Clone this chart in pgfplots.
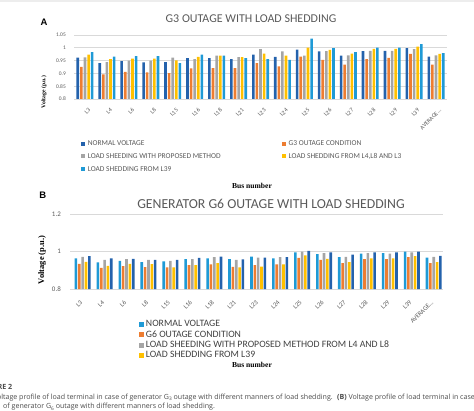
\documentclass[border=0pt]{standalone}
\usepackage{fontspec}
\setmainfont{Carlito}
\newfontfamily\serifb{Liberation Serif}
\newfontfamily\arialf{Liberation Sans}
\newfontfamily\capf{Open Sans}
\usepackage{pgfplots}
\usepackage{pgfplotstable}
\pgfplotsset{compat=1.18}
\definecolor{dblue}{HTML}{2462AC}
\definecolor{lblue}{HTML}{1F9AD6}
\definecolor{orng}{HTML}{ED7D31}
\definecolor{gry}{HTML}{A5A5A5}
\definecolor{yel}{HTML}{FFC000}
\definecolor{txtg}{HTML}{595959}
\definecolor{gridc}{HTML}{D9D9D9}

\pgfplotstableread{
x nv g3 pr ll lt
0 0.962 0.925 0.963 0.973 0.983
1 0.940 0.896 0.944 0.956 0.966
2 0.948 0.906 0.950 0.958 0.967
3 0.943 0.904 0.950 0.958 0.967
4 0.944 0.901 0.962 0.951 0.940
5 0.960 0.920 0.956 0.965 0.973
6 0.960 0.921 0.969 0.969 0.969
7 0.956 0.921 0.964 0.964 0.960
8 0.973 0.940 0.995 0.977 0.956
9 0.965 0.927 0.986 0.969 0.953
10 0.993 0.966 0.969 1.001 1.036
11 0.986 0.953 0.987 0.992 0.999
12 0.969 0.934 0.970 0.977 0.983
13 0.987 0.956 0.988 0.996 1.001
14 0.988 0.961 0.988 0.996 1.001
15 0.999 0.976 0.995 1.005 1.014
16 0.966 0.934 0.970 0.976 0.979
}\dataA

\pgfplotstableread{
x nv g6 pr lt ex
0 0.964 0.934 0.971 0.945 0.975
1 0.942 0.913 0.955 0.924 0.964
2 0.950 0.922 0.959 0.934 0.961
3 0.943 0.917 0.955 0.933 0.955
4 0.947 0.915 0.950 0.915 0.955
5 0.959 0.927 0.959 0.927 0.966
6 0.963 0.931 0.970 0.938 0.973
7 0.959 0.918 0.955 0.915 0.958
8 0.973 0.927 0.968 0.920 0.968
9 0.964 0.931 0.970 0.931 0.970
10 0.996 0.966 1.000 0.980 1.003
11 0.986 0.955 0.991 0.961 0.996
12 0.970 0.938 0.971 0.943 0.984
13 0.989 0.959 0.991 0.964 0.996
14 0.991 0.959 0.989 0.964 0.995
15 1.000 0.970 0.996 0.975 1.000
16 0.968 0.938 0.971 0.943 0.977
}\dataB

\newcommand{\avg}{AVERAGE.{}.{}.}

\pgfplotsset{
  sqA/.style={legend image code/.code={\fill[##1,draw=none] (0bp,-2bp) rectangle (4bp,2bp);}},
  sqB/.style={legend image code/.code={\fill[##1,draw=none] (0bp,-2.5bp) rectangle (5bp,2.5bp);}},
  common/.style={
    scale only axis, width=373bp,
    xmin=-0.5, xmax=16.5,
    xtick={0,1,2,3,4,5,6,7,8,9,10,11,12,13,14,15,16},
    xticklabels={L3,L4,L6,L8,L15,L16,L18,L21,L23,L24,L25,L26,L27,L28,L29,L39,\avg},
    axis line style={draw=none},
    tick style={draw=none},
    ymajorgrids, grid style={draw=gridc, line width=0.6bp},
    /pgf/number format/assume math mode=true,
    legend cell align=left,
  },
}

\begin{document}
\begin{tikzpicture}[x=1bp,y=1bp]
\useasboundingbox (0,0) rectangle (474,410);
\fill[black!7] (0,407.5) rectangle (474,410);

% ---------- Panel A ----------
\begin{axis}[common,
  at={(74bp,311bp)}, anchor=south west, height=64bp,
  ybar=1bp, bar width=2.6bp,
  ymin=0.8, ymax=1.05,
  ytick={0.8,0.85,0.9,0.95,1,1.05},
  yticklabels={0.8,0.85,0.9,0.95,1,1.05},
  yticklabel style={font=\fontsize{5.5}{6}\selectfont, text=txtg, inner sep=0pt, xshift=-8bp},
  xticklabel style={font=\fontsize{6}{7}\selectfont, text=txtg, inner sep=0pt, xshift=4.5bp, yshift=-6bp, rotate=45, anchor=east},
  legend columns=2,
  legend style={at={(0.019,-0.63)}, anchor=north west, draw=none, fill=none, inner sep=0pt,
    font=\fontsize{7.5}{8}\selectfont, text=txtg,
    nodes={inner sep=0.5bp, text height=5.5bp, text depth=1.5bp},
    row sep=4.8bp,
    /tikz/every even column/.append style={column sep=61bp},
    /tikz/every odd column/.append style={column sep=2bp}},
]
\addplot[fill=dblue, draw=none, sqA] table[x=x,y=nv] {\dataA};
\addplot[fill=orng, draw=none, sqA] table[x=x,y=g3] {\dataA};
\addplot[fill=gry, draw=none, sqA] table[x=x,y=pr] {\dataA};
\addplot[fill=yel, draw=none, sqA] table[x=x,y=ll] {\dataA};
\addplot[fill=lblue, draw=none, sqA] table[x=x,y=lt] {\dataA};
\legend{NORMAL VOLTAGE, G3 OUTAGE CONDITION, LOAD SHEEDING WITH PROPOSED METHOD, {LOAD SHEDDING FROM L4,L8 AND L3}, LOAD SHEDDING FROM L39}
\end{axis}

% ---------- Panel B ----------
\begin{axis}[common,
  at={(70bp,121bp)}, anchor=south west, height=75bp,
  ybar=0.75bp, bar width=2.6bp,
  ymin=0.8, ymax=1.2,
  ytick={0.8,1,1.2},
  yticklabels={0.8,1,1.2},
  yticklabel style={font=\fontsize{7}{8}\selectfont, text=txtg, inner sep=0pt, xshift=-9bp},
  xticklabel style={font=\fontsize{6.5}{7}\selectfont, text=txtg, inner sep=0pt, xshift=0.5bp, yshift=-8bp, rotate=45, anchor=east},
  legend style={at={(0.185,-0.40)}, anchor=north west, draw=none, fill=none, inner sep=0pt,
    font=\fontsize{9.8}{10}\selectfont, text=black!75,
    nodes={inner sep=0.25bp, text height=7.2bp, text depth=2.4bp},
    row sep=0.3bp,
    /tikz/every odd column/.append style={column sep=1.5bp}},
]
\addplot[fill=lblue, draw=none, sqB] table[x=x,y=nv] {\dataB};
\addplot[fill=orng, draw=none, sqB] table[x=x,y=g6] {\dataB};
\addplot[fill=gry, draw=none, sqB] table[x=x,y=pr] {\dataB};
\addplot[fill=yel, draw=none, sqB] table[x=x,y=lt] {\dataB};
\addplot[fill=dblue, draw=none, forget plot] table[x=x,y=ex] {\dataB};
\legend{NORMAL VOLTAGE, G6 OUTAGE CONDITION, LOAD SHEEDING WITH PROPOSED METHOD FROM L4 AND L8, LOAD SHEDDING FROM L39}
\end{axis}

% ---------- texts ----------
\node[font=\arialf\bfseries\fontsize{9.5}{10}\selectfont] at (44,388) {A};
\node[font=\fontsize{12}{13}\selectfont, text=txtg] at (251,391.5) {G3 OUTAGE WITH LOAD SHEDDING};
\node[font=\serifb\bfseries\fontsize{5.7}{6}\selectfont, rotate=90] at (44,318) {Voltage (p.u.)};
\node[font=\serifb\bfseries\fontsize{7.6}{8}\selectfont] at (252,224) {Bus number};

\node[font=\arialf\bfseries\fontsize{9.5}{10}\selectfont] at (42.7,215) {B};
\node[font=\fontsize{13.8}{14}\selectfont, text=txtg] at (271,206) {GENERATOR G6 OUTAGE WITH LOAD SHEDDING};
\node[font=\serifb\bfseries\fontsize{8.5}{9}\selectfont, rotate=90] at (42,150) {Voltage (p.u.)};
\node[font=\serifb\bfseries\fontsize{7.6}{8}\selectfont] at (252,45) {Bus number};

% caption (cropped)
\node[font=\capf\bfseries\fontsize{7.2}{8}\selectfont, text=black!70, anchor=base east, inner sep=0pt] at (12.5,20.5) {FIGURE 2};
\node[font=\capf\fontsize{7.1}{8}\selectfont, text=black!70, anchor=base east, inner sep=0pt] at (333,11)
  {\textbf{(A)} Voltage profile of load terminal in case of generator G\raisebox{-0.4ex}{\fontsize{4.8}{5}\selectfont 3} outage with different manners of load shedding.};
\node[font=\capf\fontsize{7.1}{8}\selectfont, text=black!70, anchor=base west, inner sep=0pt] at (337,11)
  {\textbf{(B)} Voltage profile of load terminal in case};
\node[font=\capf\fontsize{7.1}{8}\selectfont, text=black!70, anchor=base east, inner sep=0pt] at (0.5,1.5)
  {terminal in case};
\node[font=\capf\fontsize{7.1}{8}\selectfont, text=black!70, anchor=base west, inner sep=0pt] at (3,1.5)
  {of generator G\raisebox{-0.4ex}{\fontsize{4.8}{5}\selectfont 6} outage with different manners of load shedding.};
\end{tikzpicture}
\end{document}
